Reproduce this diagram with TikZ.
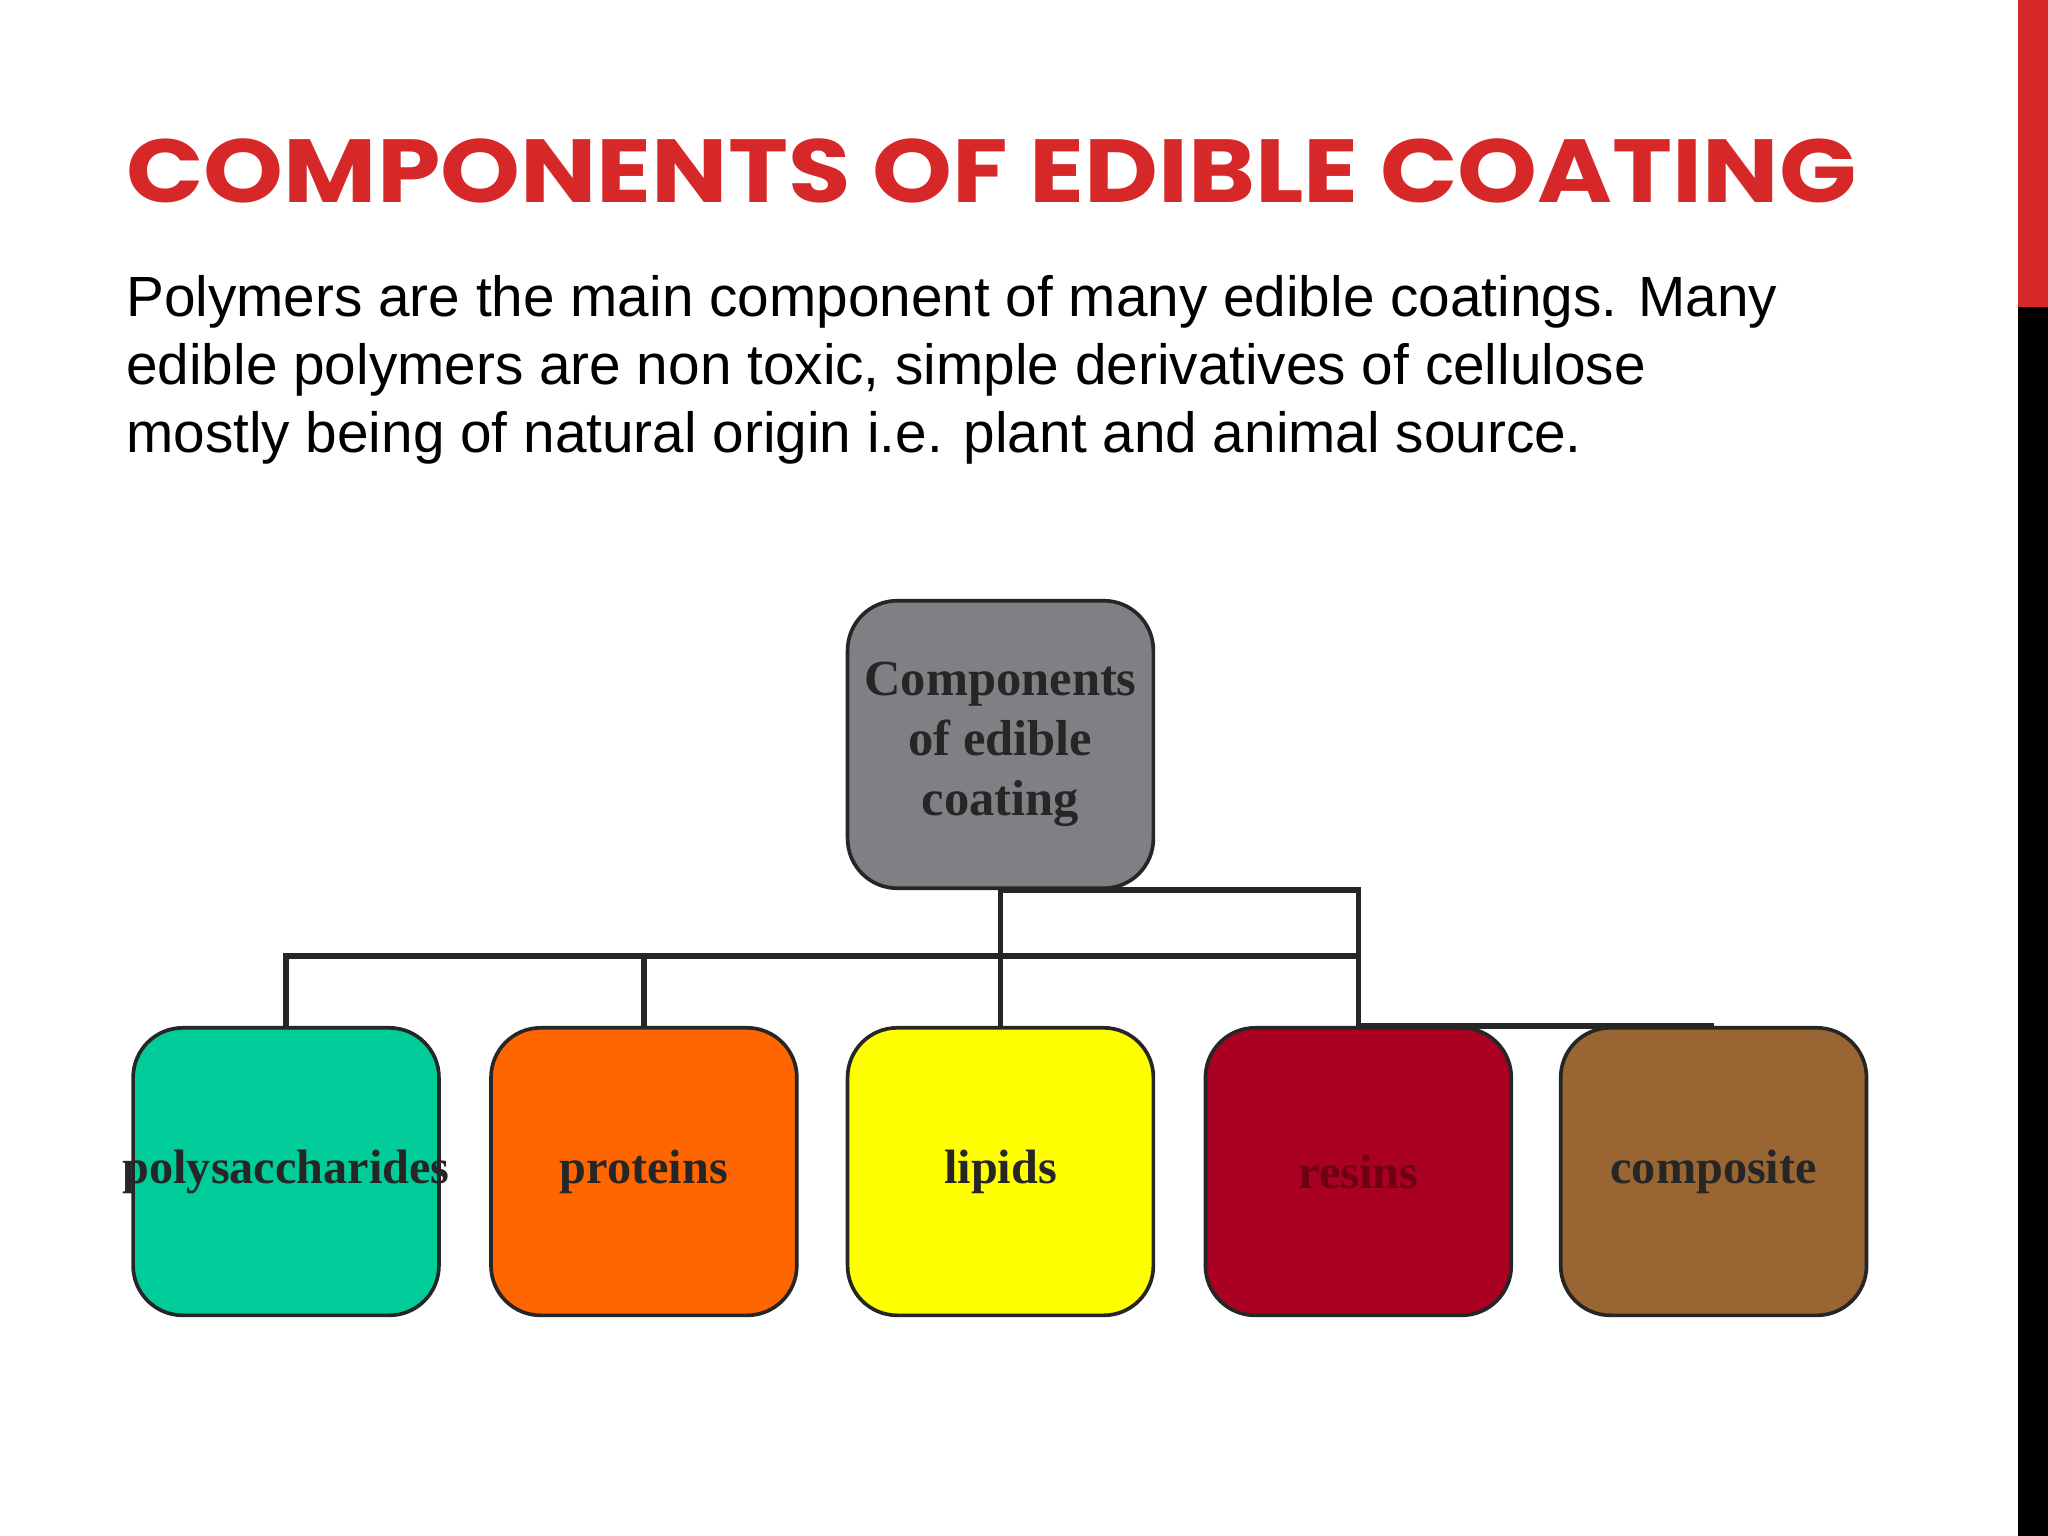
\documentclass[tikz,border=0pt]{standalone}
\usepackage{fontspec}
\setmainfont{Liberation Serif}
\newfontfamily\titlefont{Poppins}
\newfontfamily\bodyfont{Liberation Sans}
\definecolor{titlered}{RGB}{214,40,40}
\definecolor{rootgray}{RGB}{128,127,131}
\definecolor{cteal}{RGB}{0,204,153}
\definecolor{corange}{RGB}{255,102,0}
\definecolor{cyellow}{RGB}{255,255,0}
\definecolor{cdred}{RGB}{170,0,34}
\definecolor{cbrown}{RGB}{153,102,51}
\begin{document}
\begin{tikzpicture}[x=0.01cm,y=-0.01cm,
  box/.style={draw=black!85,line width=0.8pt,rounded corners=0.38cm,minimum width=2.34cm,minimum height=2.2cm,inner sep=0pt,font=\bfseries\fontsize{10.5}{13}\selectfont,text=black!85},
  link/.style={line width=1.2pt,black!85}]
\useasboundingbox (0,0) rectangle (1568,1176);
\fill[white] (0,0) rectangle (1568,1176);
\fill[titlered] (1545,0) rectangle (1568,235);
\fill[black] (1545,235) rectangle (1568,1176);
\node[anchor=base west,inner sep=0pt,text=titlered,xscale=1.135,font=\titlefont\bfseries\fontsize{19.5}{23}\selectfont] (title) at (96,155) {COMPONENTS OF EDIBLE COATING};
\node[anchor=north west,inner sep=0pt,align=left,font=\bodyfont\fontsize{12.35}{14.8}\selectfont] (para) at (96,210) {Polymers are the main component of many edible coatings. Many\\edible polymers are non toxic, simple derivatives of cellulose\\mostly being of natural origin i.e. plant and animal source.};
\node[box,fill=rootgray,align=center,font=\bfseries\fontsize{11}{13}\selectfont] (root) at (766,570) {Components\\of edible\\coating};
\node[box,fill=cteal] (poly) at (219,897) {\makebox[0pt]{polysaccharides}};
\node[box,fill=corange] (prot) at (493,897) {proteins};
\node[box,fill=cyellow] (lip) at (766,897) {lipids};
\node[box,fill=cdred,text={rgb,255:red,110;green,0;blue,20}] (res) at (1040,897) {resins};
\node[box,fill=cbrown] (comp) at (1312,897) {composite};
\coordinate (bus) at (766,732);
\draw[link] (root.south) -- (bus);
\draw[link] (poly.north) |- (bus) -| (res.north);
\draw[link] (prot.north) -- (prot.north |- bus);
\draw[link] (lip.north) -- (bus);
\draw[link] (root.south) -| (res.north);
\draw[link] (res.north) -- (comp.north);
\end{tikzpicture}
\end{document}
